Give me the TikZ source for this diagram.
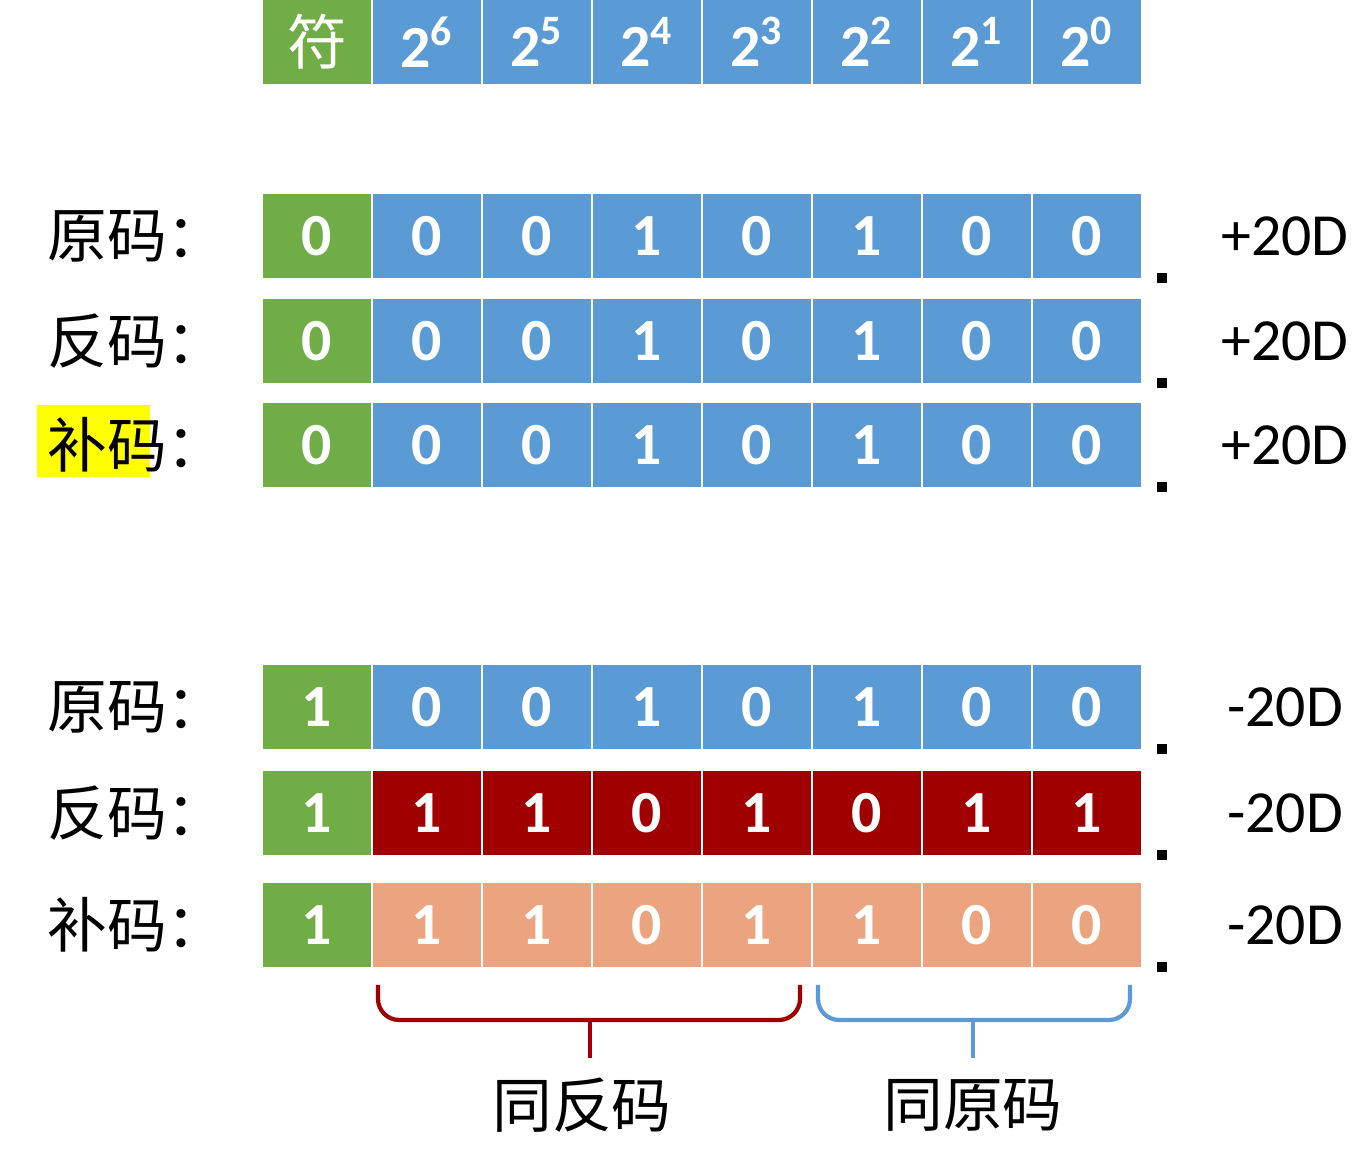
\documentclass[tikz,border=0pt]{standalone}
\usepackage{fontspec}
\setmainfont{Carlito}
\newfontfamily\cjk{Noto Sans CJK SC}
\definecolor{signgreen}{RGB}{112,173,71}
\definecolor{bitblue}{RGB}{91,155,213}
\definecolor{bitred}{RGB}{160,0,0}
\definecolor{bitpeach}{RGB}{236,163,128}
\definecolor{markyellow}{RGB}{255,255,0}
\tikzset{
  bitcell/.style={minimum width=1.075cm, minimum height=0.84cm, inner sep=0pt, text=white, font=\fontsize{17}{20}\selectfont\bfseries},
  rowlabel/.style={font=\cjk\fontsize{17}{20}\selectfont, anchor=center},
  vallabel/.style={font=\fontsize{17}{20}\selectfont, anchor=center},
}
\begin{document}
\begin{tikzpicture}
\useasboundingbox (0,0) rectangle (13.57,11.5);

% header
\node[bitcell, fill=signgreen, font=\cjk\fontsize{17}{20}\selectfont] (h0) at (3.17,11.08) {符};
\foreach \i/\e in {1/6,2/5,3/4,4/3,5/2,6/1,7/0}
  \node[bitcell, fill=bitblue] (h\i) at (3.17+\i*1.1,11.08) {2\textsuperscript{\e}};

% rows: name / y / bits / fill of value bits / value
\foreach \r/\y/\bits/\col/\val in {
  a/9.14/{0,0,0,1,0,1,0,0}/bitblue/+20D,
  b/8.09/{0,0,0,1,0,1,0,0}/bitblue/+20D,
  c/7.05/{0,0,0,1,0,1,0,0}/bitblue/+20D,
  d/4.43/{1,0,0,1,0,1,0,0}/bitblue/-20D,
  e/3.37/{1,1,1,0,1,0,1,1}/bitred/-20D,
  f/2.25/{1,1,1,0,1,1,0,0}/bitpeach/-20D}{
  \foreach \b [count=\k from 0] in \bits {
    \ifnum\k=0
      \node[bitcell, fill=signgreen] (\r\k) at (3.17,\y) {\b};
    \else
      \node[bitcell, fill=\col] (\r\k) at (3.17+\k*1.1,\y) {\b};
    \fi
  }
  \fill (11.57,\y-0.47) rectangle ++(0.1,0.1);
  \node[vallabel] (\r v) at (12.85,\y) {\val};
}

% row names
\fill[markyellow] (0.37,6.73) rectangle (1.5,7.45);
\foreach \r/\y/\lab in {a/9.14/原码,b/8.09/反码,c/7.05/补码,d/4.43/原码,e/3.37/反码,f/2.25/补码}
  \node[rowlabel, anchor=west] (\r n) at (0.35,\y) {\lab：};

% braces
\draw[bitred, line width=1.2pt, rounded corners=6pt] (3.78,1.65) -- (3.78,1.3) -- (8.0,1.3) -- (8.0,1.65);
\draw[bitred, line width=1.2pt] (5.9,1.3) -- (5.9,0.92);
\draw[bitblue, line width=1.2pt, rounded corners=6pt] (8.18,1.65) -- (8.18,1.3) -- (11.3,1.3) -- (11.3,1.65);
\draw[bitblue, line width=1.2pt] (9.73,1.3) -- (9.73,0.92);
\node[rowlabel] (same1) at (5.82,0.45) {同反码};
\node[rowlabel] (same2) at (9.73,0.45) {同原码};
\end{tikzpicture}
\end{document}
